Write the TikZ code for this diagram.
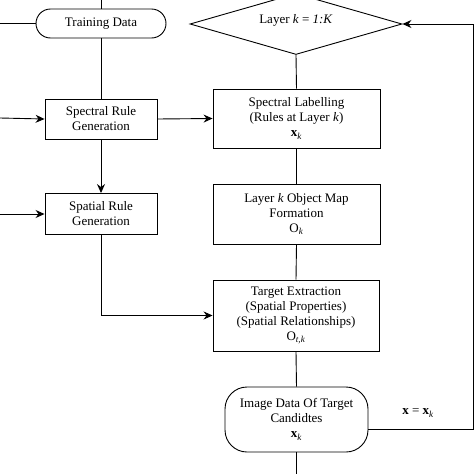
\documentclass[tikz,border=0pt]{standalone}
\usepackage{fontspec}
\setmainfont{Liberation Serif}
\usetikzlibrary{shapes.geometric,arrows.meta}
\begin{document}
\begin{tikzpicture}[x=1pt,y=-1pt,
  every node/.style={font=\fontsize{13}{15}\selectfont, align=center, inner sep=0pt},
  box/.style={draw, line width=0.9pt, rectangle},
  stadium/.style={draw, line width=0.9pt, rectangle},
  link/.style={line width=0.9pt},
  arr/.style={line width=0.9pt, -{Stealth[length=9pt,width=8pt,inset=3pt]}}]
\useasboundingbox (0,0) rectangle (474,474);
% nodes
\node[stadium, rounded corners=14.5pt, minimum width=130pt, minimum height=29pt] (td) at (101,23.5) {Training Data};
\node[draw, line width=0.9pt, diamond, minimum width=212pt, minimum height=61pt] (dia) at (296,24) {};
\node (dial) at (296,20) {Layer \textit{k} = \textit{1:K}};
\node[box, minimum width=112pt, minimum height=40pt] (srg) at (101,119) {Spectral Rule\\Generation};
\node[box, minimum width=167pt, minimum height=59pt] (sl) at (296.5,118.5) {Spectral Labelling\\(Rules at Layer \textit{k})\\\textbf{x}\textsubscript{\textit{k}}};
\node[box, minimum width=112pt, minimum height=41pt] (spg) at (101,214) {Spatial Rule\\Generation};
\node[box, minimum width=167pt, minimum height=60pt] (om) at (296.5,214) {Layer \textit{k} Object Map\\Formation\\O\textsubscript{\textit{k}}};
\node[box, minimum width=166pt, minimum height=71pt] (te) at (296,315.5) {Target Extraction\\(Spatial Properties)\\(Spatial Relationships)\\O\textsubscript{\textit{t,k}}};
\node[stadium, rounded corners=22pt, minimum width=143pt, minimum height=65pt] (img) at (296.5,419.5) {Image Data Of Target\\Candidtes\\\textbf{x}\textsubscript{\textit{k}}};
\node (xl) at (418,413) {\textbf{x} = \textbf{x}\textsubscript{\textit{k}}};
% free ends
\coordinate (inA) at (0,23.5);
\coordinate (inT) at (101,0);
\coordinate (inB) at (0,118);
\coordinate (inC) at (0,214);
\coordinate (outB) at (296.5,474);
\coordinate (rc) at (473,429);
% connectors
\draw[link] (inA) -- (td.west);
\draw[link] (inT) -- (td.north);
\draw[link] (td.south) -- (srg.north);
\draw[arr] (inB) -- (srg.west);
\draw[arr] (srg.east) -- (sl.west);
\draw[arr] (srg.south) -- (spg.north);
\draw[arr] (inC) -- (spg.west);
\draw[arr] (spg.south) |- (te.west);
\draw[link] (dia.south) -- (sl.north);
\draw[link] (sl.south) -- (om.north);
\draw[link] (om.south) -- (te.north);
\draw[link] (te.south) -- (img.north);
\draw[link] (img.south) -- (outB);
\draw[arr] ([yshift=-9.5pt]img.east) -- (rc) |- (dia.east);
\end{tikzpicture}
\end{document}
